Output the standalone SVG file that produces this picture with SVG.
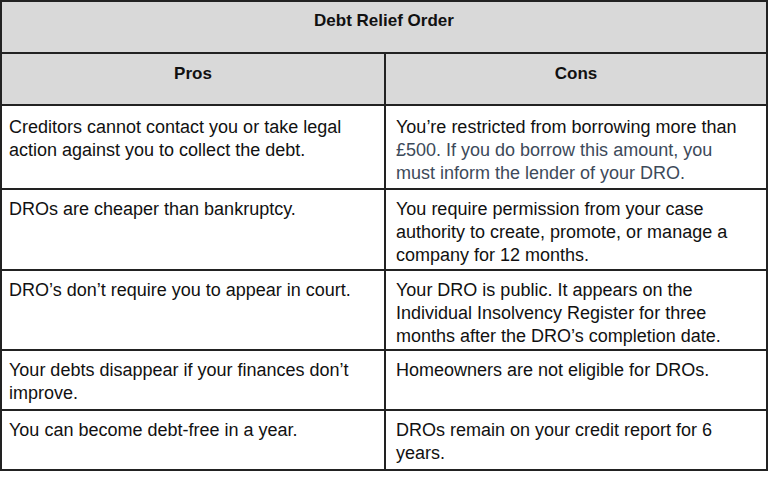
<svg xmlns="http://www.w3.org/2000/svg" width="768" height="495" viewBox="0 0 768 495">
<style>
text{font-family:"Liberation Sans",Arial,sans-serif;font-size:18px;fill:#111}
.h{font-weight:bold;text-anchor:middle;font-size:17px}
.b{fill:#3d4a5a}
.g{fill:#d9d9d9}
line{stroke:#222;stroke-width:2}
</style>
<rect width="768" height="495" fill="#fff"/>
<rect class="g" x="1" y="1" width="766" height="104"/>
<g id="grid">
<line x1="0" y1="1" x2="768" y2="1"/>
<line x1="0" y1="53" x2="768" y2="53"/>
<line x1="0" y1="105" x2="768" y2="105"/>
<line x1="0" y1="189" x2="768" y2="189"/>
<line x1="0" y1="270" x2="768" y2="270"/>
<line x1="0" y1="350" x2="768" y2="350"/>
<line x1="0" y1="410" x2="768" y2="410"/>
<line x1="0" y1="470" x2="768" y2="470"/>
<line x1="1" y1="0" x2="1" y2="471"/>
<line x1="767" y1="0" x2="767" y2="471"/>
<line x1="385" y1="53" x2="385" y2="471"/>
</g>
<g id="title"><text class="h" x="384" y="26">Debt Relief Order</text></g>
<g id="pros-h"><text class="h" x="193" y="79">Pros</text></g>
<g id="cons-h"><text class="h" x="576" y="79">Cons</text></g>
<g id="r1"><text x="9" y="133">Creditors cannot contact you or take legal</text><text x="9" y="156">action against you to collect the debt.</text>
<text x="396" y="133">You’re restricted from borrowing more than</text><text class="b" x="396" y="156">£500. If you do borrow this amount, you</text><text class="b" x="396" y="179">must inform the lender of your DRO.</text></g>
<g id="r2"><text x="9" y="215">DROs are cheaper than bankruptcy.</text>
<text x="396" y="215">You require permission from your case</text><text x="396" y="238">authority to create, promote, or manage a</text><text x="396" y="261">company for 12 months.</text></g>
<g id="r3"><text x="9" y="296">DRO’s don’t require you to appear in court.</text>
<text x="396" y="296">Your DRO is public. It appears on the</text><text x="396" y="319">Individual Insolvency Register for three</text><text x="396" y="342">months after the DRO’s completion date.</text></g>
<g id="r4"><text x="9" y="376">Your debts disappear if your finances don’t</text><text x="9" y="399">improve.</text>
<text x="396" y="376">Homeowners are not eligible for DROs.</text></g>
<g id="r5"><text x="9" y="436">You can become debt-free in a year.</text>
<text x="396" y="436">DROs remain on your credit report for 6</text><text x="396" y="459">years.</text></g>
</svg>
